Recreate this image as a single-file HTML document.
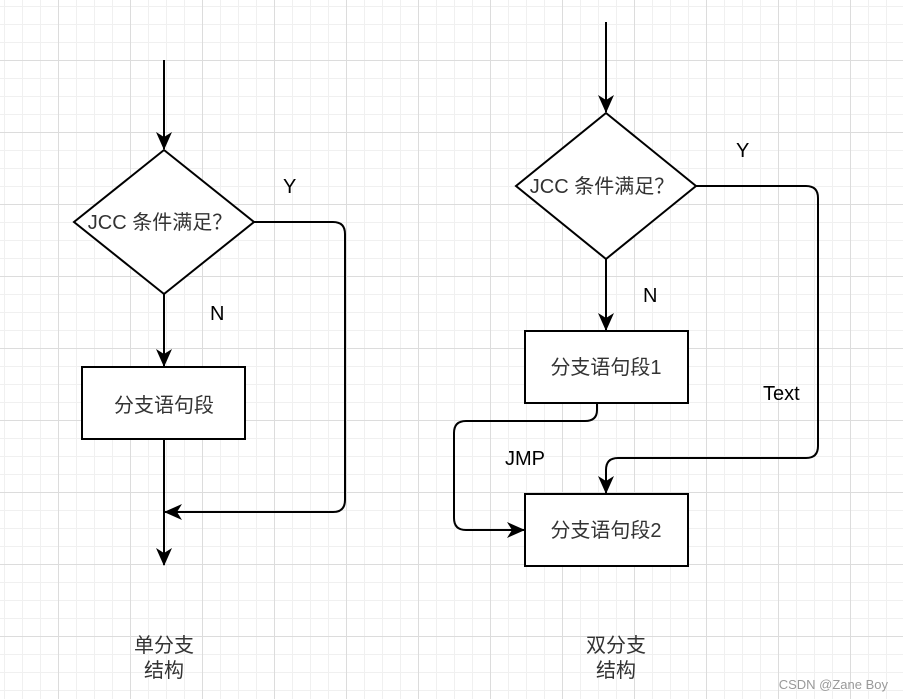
<!DOCTYPE html>
<html><head><meta charset="utf-8"><style>
html,body{margin:0;padding:0}
body{width:903px;height:699px;overflow:hidden;background-color:#fff;
background-image:
linear-gradient(to right,#dcdcdc 1px,transparent 1px),
linear-gradient(to bottom,#dcdcdc 1px,transparent 1px),
linear-gradient(to right,#f0f0f0 1px,transparent 1px),
linear-gradient(to bottom,#f0f0f0 1px,transparent 1px);
background-size:72px 72px,72px 72px,18px 18px,18px 18px;
background-position:58px 60px,58px 60px,4px 6px,4px 6px;}
svg{position:absolute;left:0;top:0}
text{font-family:"Liberation Sans","Noto Sans CJK SC",sans-serif;font-size:20px;}
</style></head><body>
<svg width="903" height="699" viewBox="0 0 903 699">
<defs>
<marker id="b" markerWidth="18" markerHeight="18" refX="17" refY="9" orient="auto" markerUnits="userSpaceOnUse" viewBox="0 0 18 18"><path d="M0,1 L18,9 L0,17 L5,9 z" fill="#000"/></marker></defs>
<g stroke="#000" stroke-width="2" fill="none">
<path d="M164 60 V149" marker-end="url(#b)"/>
<polygon points="164,150 254,222 164,294 74,222" fill="#fff"/>
<path d="M164 294 V366" marker-end="url(#b)"/>
<rect x="82" y="367" width="163" height="72" fill="#fff"/>
<path d="M164 439 V565" marker-end="url(#b)"/>
<path d="M254 222 H333 Q345 222 345 234 V500 Q345 512 333 512 H165" marker-end="url(#b)"/>
<path d="M606 22 V112" marker-end="url(#b)"/>
<polygon points="606,113 696,186 606,259 516,186" fill="#fff"/>
<path d="M606 259 V330" marker-end="url(#b)"/>
<rect x="525" y="331" width="163" height="72" fill="#fff"/>
<rect x="525" y="494" width="163" height="72" fill="#fff"/>
<path d="M696 186 H806 Q818 186 818 198 V446 Q818 458 806 458 H618 Q606 458 606 470 V493" marker-end="url(#b)"/>
<path d="M597 403 V410 Q597 421 585 421 H466 Q454 421 454 433 V518 Q454 530 466 530 H524" marker-end="url(#b)"/>
</g>
<g fill="#333" style="font-size:21px">
<text x="160" y="229" text-anchor="middle">JCC 条件满足？</text>
<text x="602" y="193" text-anchor="middle">JCC 条件满足？</text>
<text x="164" y="412" text-anchor="middle">分支语句段</text>
<text x="606" y="374" text-anchor="middle">分支语句段1</text>
<text x="606" y="537" text-anchor="middle">分支语句段2</text>
</g>
<g fill="#000">
<text x="283" y="193">Y</text>
<text x="210" y="320">N</text>
<text x="736" y="157">Y</text>
<text x="643" y="302">N</text>
<text x="763" y="400">Text</text>
<text x="505" y="465">JMP</text>
</g>
<g fill="#333">
<text x="164" y="652" text-anchor="middle">单分支</text>
<text x="164" y="677" text-anchor="middle">结构</text>
<text x="616" y="652" text-anchor="middle">双分支</text>
<text x="616" y="677" text-anchor="middle">结构</text>
</g>
<text x="888" y="689" text-anchor="end" fill="#999" style="font-size:13px">CSDN @Zane Boy</text>
</svg>
</body></html>
